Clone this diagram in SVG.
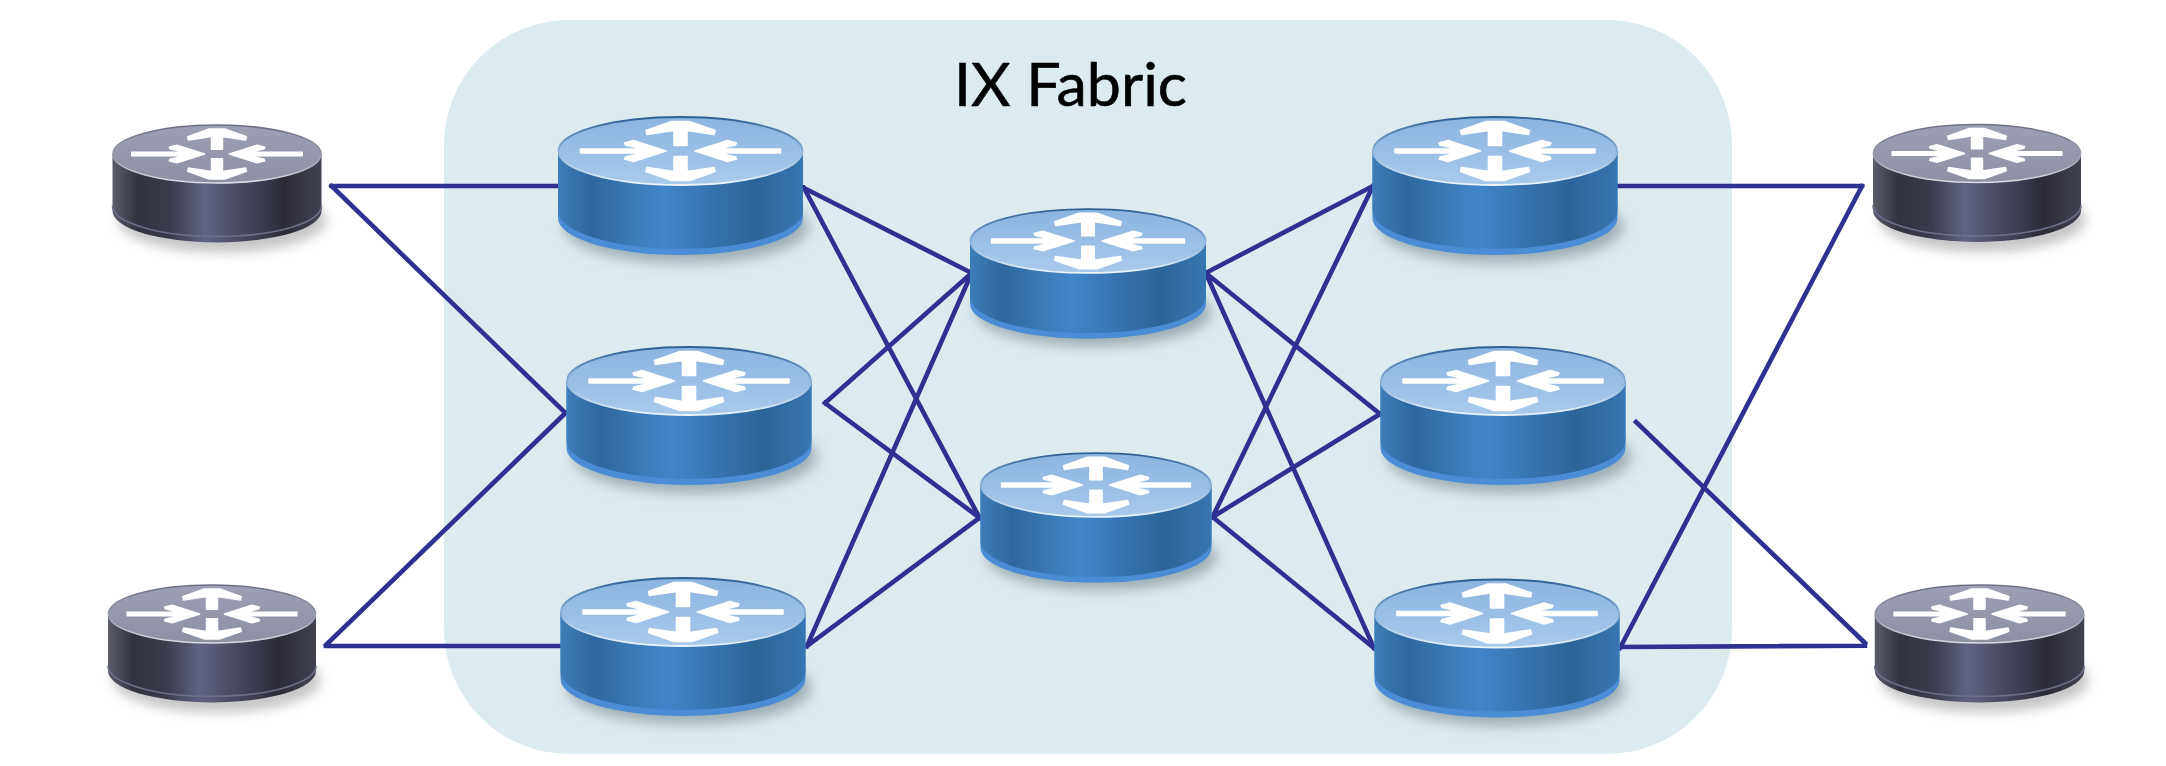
<svg xmlns="http://www.w3.org/2000/svg" width="2166" height="766" viewBox="0 0 2166 766">
<style>
.link{stroke:#2e3192;stroke-width:4.6;fill:none;stroke-linecap:square}
.label{font-family:"Lato","Noto Sans",sans-serif;font-size:60px;fill:#000;stroke:#000;stroke-width:.6px}
.glyph{fill:#fff;stroke:#fff;stroke-width:1.6;stroke-linejoin:round}
</style>
<defs>
<linearGradient id="bSide" x1="0" x2="1" y1="0" y2="0">
<stop offset="0" stop-color="#3d7db8"/><stop offset=".14" stop-color="#2e679f"/><stop offset=".3" stop-color="#3a7ab6"/><stop offset=".43" stop-color="#4285c9"/><stop offset=".62" stop-color="#3574b0"/><stop offset=".8" stop-color="#2c6498"/><stop offset="1" stop-color="#3776b2"/>
</linearGradient>
<linearGradient id="bTop" x1="0" x2="0" y1="0" y2="1"><stop offset="0" stop-color="#8bb4df"/><stop offset="1" stop-color="#a8caec"/></linearGradient>
<linearGradient id="bRim" x1="0" x2="0" y1="0" y2="1"><stop offset="0" stop-color="#2c5f92"/><stop offset=".45" stop-color="#7ea9d2"/><stop offset="1" stop-color="#eef6fc"/></linearGradient>
<linearGradient id="dSide" x1="0" x2="1" y1="0" y2="0">
<stop offset="0" stop-color="#5b5d6b"/><stop offset=".12" stop-color="#32333f"/><stop offset=".28" stop-color="#3b3c4b"/><stop offset=".44" stop-color="#5f6285"/><stop offset=".62" stop-color="#474860"/><stop offset=".82" stop-color="#2c2c37"/><stop offset="1" stop-color="#40424f"/>
</linearGradient>
<linearGradient id="dTop" x1="0" x2="0" y1="0" y2="1"><stop offset="0" stop-color="#9da0b4"/><stop offset="1" stop-color="#8d90a2"/></linearGradient>
<linearGradient id="dRim" x1="0" x2="0" y1="0" y2="1"><stop offset="0" stop-color="#6c6e80"/><stop offset=".45" stop-color="#8f92a3"/><stop offset="1" stop-color="#dcdde2"/></linearGradient>
<filter id="soft" x="-20%" y="-30%" width="140%" height="160%"><feGaussianBlur stdDeviation="7"/></filter>
<g id="arrows">
<path class="glyph" d="M-6.5,-5.5H6.5V-20.5L33.5,-16.5L34.5,-20.5L9,-29.5H-9L-34.5,-20.5L-33.5,-16.5L-6.5,-20.5Z"/>
<path class="glyph" d="M-6.5,5.5H6.5V20.5L33.5,16.5L34.5,20.5L9,29.5H-9L-34.5,20.5L-33.5,16.5L-6.5,20.5Z"/>
<path class="glyph" d="M-14.5,0L-47,-10.5L-56,-8L-55,-6L-38,-2H-100V2H-38L-55,6L-56,8L-47,10.5Z"/>
<path class="glyph" d="M14.5,0L47,-10.5L56,-8L55,-6L38,-2H100V2H38L55,6L56,8L47,10.5Z"/>
</g>
<g id="blue">
<ellipse cx="6" cy="76" rx="122" ry="36" fill="#33474f" opacity=".38" filter="url(#soft)"/>
<path fill="#4a8dd6" d="M-122.5,0V67A122.5,37 0 0 0 122.5,67V0Z"/>
<path fill="url(#bSide)" d="M-122.5,0V60A122.5,38 0 0 0 122.5,60V0Z"/>
<ellipse rx="122" ry="34" fill="url(#bTop)" stroke="url(#bRim)" stroke-width="1.8"/>
<use href="#arrows"/>
</g>
<g id="dark">
<ellipse cx="6" cy="78" rx="122" ry="38" fill="#333" opacity=".28" filter="url(#soft)"/>
<path fill="url(#dSide)" d="M-122.5,0V67A122.5,37 0 0 0 122.5,67V0Z"/>
<path fill="none" stroke="#6d6f88" stroke-width="2" d="M-122.5,61A122.5,36 0 0 0 122.5,61"/>
<ellipse rx="122" ry="34" fill="url(#dTop)" stroke="url(#dRim)" stroke-width="1.8"/>
<use href="#arrows"/>
</g>
</defs>
<rect width="2166" height="766" fill="#fff"/>
<g id="fabric">
<rect x="444" y="20" width="1288" height="734" rx="125" ry="125" fill="#dcebef"/>
<text class="label" x="954" y="106" textLength="233" lengthAdjust="spacingAndGlyphs">IX Fabric</text>
</g>
<g id="connectors">
<path class="link" d="M331.5,186H558M331.5,186L565.5,413"/>
<path class="link" d="M326,645L565.5,413M326,646H559"/>
<path class="link" d="M804,188L971.7,273M804,188L979.5,517.7"/>
<path class="link" d="M825,403L971.7,273M825,403L979.5,517.7"/>
<path class="link" d="M807,646L971.7,273M807,646L979.5,517.7"/>
<path class="link" d="M1205.7,273L1373,186M1205.7,273L1380,414M1205.7,273L1374,648"/>
<path class="link" d="M1212.6,517L1373,186M1212.6,517L1380,414M1212.6,517L1374,648"/>
<path class="link" d="M1618,186H1862M1620,648L1862,186"/>
<path class="link" d="M1636,422L1865,643M1620,647L1865,645.7"/>
</g>
<g id="edge-left-top"><use href="#dark" transform="translate(217,154) scale(.853,.85)"/></g>
<g id="edge-left-bottom"><use href="#dark" transform="translate(212,614) scale(.849,.85)"/></g>
<g id="edge-right-top"><use href="#dark" transform="translate(1977,153.5) scale(.849,.85)"/></g>
<g id="edge-right-bottom"><use href="#dark" transform="translate(1979.5,614) scale(.855,.85)"/></g>
<g id="leaf-left-a"><use href="#blue" transform="translate(680.5,151)"/></g>
<g id="leaf-left-b"><use href="#blue" transform="translate(689,381)"/></g>
<g id="leaf-left-c"><use href="#blue" transform="translate(683,612)"/></g>
<g id="spine-a"><use href="#blue" transform="translate(1088,241) scale(.963,.94)"/></g>
<g id="spine-b"><use href="#blue" transform="translate(1096,485) scale(.943,.94)"/></g>
<g id="leaf-right-a"><use href="#blue" transform="translate(1495,151)"/></g>
<g id="leaf-right-b"><use href="#blue" transform="translate(1503,381)"/></g>
<g id="leaf-right-c"><use href="#blue" transform="translate(1497,613.5)"/></g>
</svg>
